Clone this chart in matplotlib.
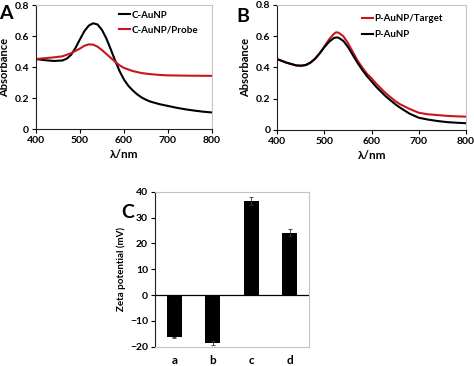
"""Recreate the AuNP absorbance / zeta potential figure."""

import matplotlib

matplotlib.use("Agg")

import matplotlib.pyplot as plt

plt.rcParams["font.family"] = ["Lato", "DejaVu Sans"]
plt.rcParams["font.weight"] = "bold"

RED = "#c8161d"
FRAME = "#c4c4c4"

# Panel A: C-AuNP vs C-AuNP/Probe
wl_a_black = [400, 420, 440, 460, 470, 480, 490, 500, 510, 520, 530, 540, 550, 560,
              570, 580, 590, 600, 610, 620, 630, 640, 650, 660, 680, 700, 720, 740,
              760, 780, 800]
abs_c_aunp = [0.452, 0.445, 0.440, 0.443, 0.455, 0.480, 0.525, 0.580, 0.632, 0.668,
              0.683, 0.675, 0.640, 0.585, 0.515, 0.442, 0.375, 0.320, 0.280, 0.250,
              0.225, 0.205, 0.190, 0.178, 0.162, 0.150, 0.138, 0.128, 0.120, 0.113, 0.108]
wl_a_red = [400, 420, 440, 460, 480, 500, 510, 520, 530, 540, 550, 560, 570, 580,
            590, 600, 620, 640, 660, 680, 700, 750, 800]
abs_c_probe = [0.452, 0.458, 0.463, 0.470, 0.490, 0.520, 0.538, 0.547, 0.545, 0.532,
               0.510, 0.485, 0.460, 0.435, 0.412, 0.395, 0.375, 0.362, 0.355, 0.350,
               0.347, 0.345, 0.344]

# Panel B: P-AuNP vs P-AuNP/Target
wl_b = [400, 420, 440, 450, 460, 470, 480, 490, 500, 510, 520, 525, 530, 540, 550,
        560, 570, 580, 590, 600, 610, 620, 630, 640, 650, 660, 680, 700, 720, 740,
        760, 780, 800]
abs_p_aunp = [0.453, 0.430, 0.413, 0.411, 0.415, 0.430, 0.455, 0.490, 0.530, 0.565,
              0.588, 0.592, 0.590, 0.570, 0.530, 0.480, 0.430, 0.385, 0.345, 0.310,
              0.275, 0.245, 0.215, 0.190, 0.165, 0.143, 0.105, 0.078, 0.066, 0.057,
              0.050, 0.046, 0.043]
abs_p_target = [0.453, 0.430, 0.413, 0.411, 0.415, 0.430, 0.455, 0.492, 0.535, 0.580,
                0.615, 0.625, 0.622, 0.600, 0.555, 0.500, 0.445, 0.400, 0.360, 0.330,
                0.295, 0.265, 0.235, 0.210, 0.185, 0.165, 0.135, 0.110, 0.100, 0.095,
                0.090, 0.087, 0.085]

# Panel C: zeta potential
samples = ["a", "b", "c", "d"]
zeta = [-16.4, -18.4, 36.4, 24.2]
zeta_err = [0.3, 0.8, 1.5, 1.5]


def style_spectrum(axis):
    axis.set_xlim(400, 800)
    axis.set_ylim(0, 0.8)
    axis.set_xticks([400, 500, 600, 700, 800])
    axis.set_yticks([0, 0.2, 0.4, 0.6, 0.8])
    axis.set_yticklabels(["0", "0.2", "0.4", "0.6", "0.8"])
    axis.spines[["top", "right"]].set_color(FRAME)
    axis.spines[["left", "bottom"]].set_color("#202020")
    for spine in axis.spines.values():
        spine.set_linewidth(0.8)
    axis.tick_params(direction="out", length=3, width=0.8, labelsize=7.5, pad=2)
    for label in axis.get_xticklabels() + axis.get_yticklabels():
        label.set_fontweight("bold")
    axis.set_xlabel("λ/nm", fontsize=8.5, fontweight="bold", labelpad=3)
    axis.set_ylabel("Absorbance", fontsize=8, fontweight="bold", labelpad=3)


fig = plt.figure(figsize=(4.74, 3.66), dpi=100)

ax_a = fig.add_axes([0.076, 0.647, 0.371, 0.339])
ax_a.plot(wl_a_black, abs_c_aunp, color="black", lw=1.5, label="C-AuNP")
ax_a.plot(wl_a_red, abs_c_probe, color=RED, lw=1.5, label="C-AuNP/Probe")
style_spectrum(ax_a)
ax_a.legend(loc="upper left", bbox_to_anchor=(0.45, 0.985), frameon=False,
            handlelength=1.1, handletextpad=0.15, labelspacing=0.55,
            prop={"size": 7, "weight": "bold"}, borderaxespad=0)

ax_b = fig.add_axes([0.585, 0.645, 0.398, 0.3415])
ax_b.plot(wl_b, abs_p_target, color=RED, lw=1.5, label="P-AuNP/Target")
ax_b.plot(wl_b, abs_p_aunp, color="black", lw=1.5, label="P-AuNP")
style_spectrum(ax_b)
ax_b.legend(loc="upper left", bbox_to_anchor=(0.43, 0.955), frameon=False,
            handlelength=1.1, handletextpad=0.15, labelspacing=0.7,
            prop={"size": 7, "weight": "bold"}, borderaxespad=0)

ax_c = fig.add_axes([0.327, 0.0527, 0.325, 0.4235])
positions = [0.5, 1.5, 2.5, 3.5]
ax_c.bar(positions, zeta, width=0.4, color="black", yerr=zeta_err,
         error_kw={"ecolor": "#333333", "elinewidth": 0.6, "capsize": 1.5, "capthick": 0.6})
ax_c.axhline(0, color="black", lw=0.9)
ax_c.set_xlim(0, 4)
ax_c.set_ylim(-20, 40)
ax_c.set_yticks(range(-20, 41, 10))
ax_c.set_xticks(positions)
ax_c.set_xticklabels(samples)
ax_c.spines[["top", "right", "bottom"]].set_color(FRAME)
ax_c.spines["left"].set_color("#202020")
for spine in ax_c.spines.values():
    spine.set_linewidth(0.8)
ax_c.tick_params(axis="y", direction="out", length=3, width=0.8, labelsize=7.5, pad=2)
ax_c.tick_params(axis="x", length=0, labelsize=8.5, pad=6)
for label in ax_c.get_xticklabels() + ax_c.get_yticklabels():
    label.set_fontweight("bold")
ax_c.set_ylabel("Zeta potential (mV)", fontsize=7, fontweight="bold", labelpad=3)

fig.text(0.013, 0.962, "A", fontsize=14, fontweight="bold", va="center", ha="center")
fig.text(0.513, 0.954, "B", fontsize=14, fontweight="bold", va="center", ha="center")
fig.text(0.27, 0.42, "C", fontsize=14, fontweight="bold", va="center", ha="center")

fig.savefig("out.png", dpi=100, facecolor="white")
